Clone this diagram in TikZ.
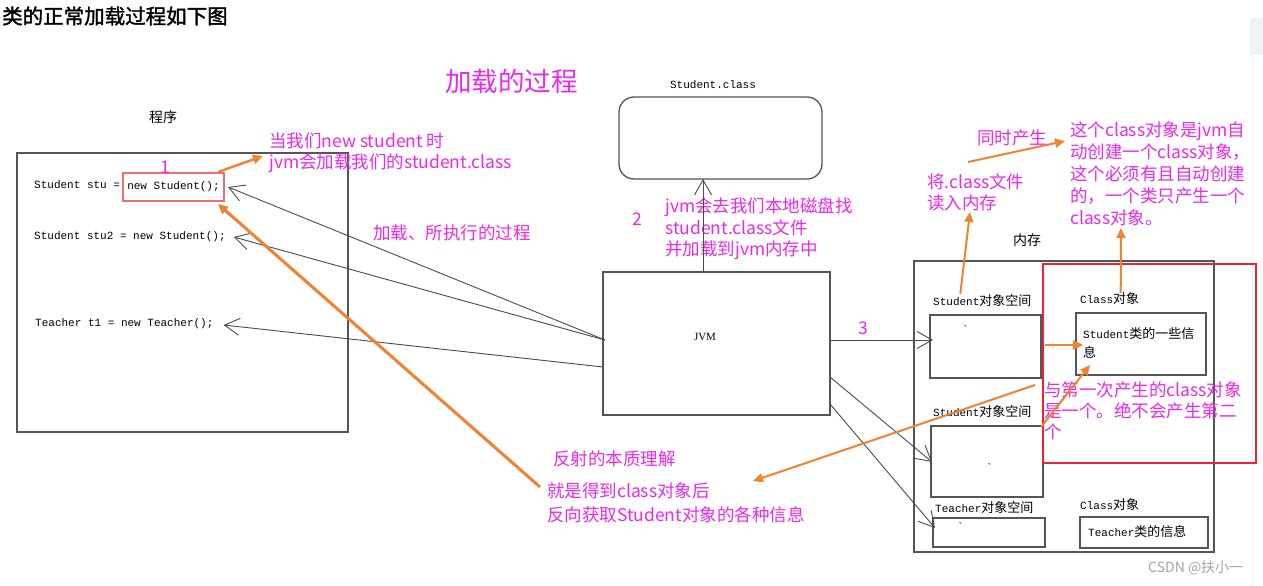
\documentclass[tikz,border=0pt]{standalone}
\usepackage{fontspec}
\setmainfont{Liberation Serif}
\newfontfamily\cjk{Noto Sans CJK SC}
\newfontfamily\cjkbold[FakeBold=1.6]{Noto Sans CJK SC}
\newfontfamily\code{Liberation Mono}
\usetikzlibrary{arrows.meta,calc}
\definecolor{mag}{RGB}{235,40,235}
\definecolor{org}{RGB}{240,130,50}
\definecolor{lgray}{RGB}{75,75,75}
\definecolor{bgray}{RGB}{85,85,85}
\definecolor{bred}{RGB}{236,35,50}
\definecolor{pinkred}{RGB}{236,110,115}
\definecolor{wmark}{RGB}{165,165,165}
\definecolor{edgec}{RGB}{238,243,248}
\newcommand\codefont{\code\fontsize{11}{13}\selectfont}
\newcommand\mix[2]{{\codefont #1}{\cjk\fontsize{13}{15}\selectfont #2}}
\begin{document}
\begin{tikzpicture}[x=1pt,y=-1pt,
  box/.style={draw=bgray, line width=1.3pt, inner sep=0pt, outer sep=0pt, anchor=north west},
  codetxt/.style={font=\codefont, inner sep=0pt, anchor=west},
  labtxt/.style={inner sep=0pt, anchor=west},
  mtext/.style={text=mag, font=\cjk\fontsize{17.5}{21.5}\selectfont, align=left, inner sep=0pt, anchor=base west},
  garrow/.style={draw=lgray, line width=0.9pt, -{Straight Barb[length=15pt,width=17pt,line width=0.9pt]}},
  oarrow/.style={draw=org, line width=2.4pt, -{Triangle[length=10pt,width=9pt]}}
]
\fill[white] (0,0) rectangle (1263,586);
\useasboundingbox (0,0) rectangle (1263,586);
\fill[edgec] (1250,18) rectangle (1263,55);
\draw[edgec, line width=1pt] (1252,55) -- (1252,586);

% titles
\node[anchor=west, inner sep=0pt, font=\cjkbold\fontsize{20.5}{24}\selectfont] (title) at (2,16) {类的正常加载过程如下图};
\node[anchor=west, inner sep=0pt, text=mag, font=\cjk\fontsize{26.5}{30}\selectfont] (heading) at (445,81) {加载的过程};

% program box
\node[font=\cjk\fontsize{14}{16}\selectfont, inner sep=0pt] (proglab) at (163,117) {程序};
\node[box, minimum width=331pt, minimum height=279pt] (prog) at (17,153) {};
\node[codetxt] (c1a) at (34,185) {Student stu =};
\node[draw=pinkred, line width=1.1pt, font=\codefont, inner sep=0pt, outer sep=0pt,
      minimum width=101pt, minimum height=28pt, anchor=north west] (new1) at (123,173) {new Student();};
\node[codetxt] (c2) at (34,237) {Student stu2 = new Student();};
\node[codetxt] (c3) at (35,324) {Teacher t1 = new Teacher();};

% Student.class
\node[font=\codefont, inner sep=0pt] (sclasslab) at (713,85) {Student.class};
\node[box, rounded corners=15pt, minimum width=203pt, minimum height=82pt] (sclass) at (619,97) {};

% JVM
\node[box, minimum width=227pt, minimum height=143pt] (jvm) at (603,272) {};
\node[font=\fontsize{11}{13}\selectfont, inner sep=0pt] (jvmlab) at (705,337) {JVM};

% memory
\node[font=\cjk\fontsize{14}{16}\selectfont, inner sep=0pt] (memlab) at (1027,240) {内存};
\node[box, line width=1.1pt, minimum width=300pt, minimum height=291pt] (mem) at (914,261) {};
\node[labtxt] (s1lab) at (933,301) {\mix{Student}{对象空间}};
\node[box, line width=1.1pt, minimum width=111pt, minimum height=63pt] (sbox1) at (930,315) {};
\node[labtxt, font=\codefont] (tick1) at (962,330) {\char"60};
\node[labtxt] (s2lab) at (933,412) {\mix{Student}{对象空间}};
\node[box, line width=1.1pt, minimum width=112pt, minimum height=71pt] (sbox2) at (931,426) {};
\node[labtxt, font=\codefont] (tick2) at (986,468) {\char"60};
\node[labtxt] (tlab) at (935,508) {\mix{Teacher}{对象空间}};
\node[box, line width=1.1pt, minimum width=112pt, minimum height=29pt] (tbox) at (933,518) {};
\node[labtxt, font=\codefont] (tick3) at (957,527) {\char"60};

\node[labtxt] (c1lab) at (1080,299) {\mix{Class}{对象}};
\node[box, line width=1.1pt, minimum width=130pt, minimum height=62pt] (cbox1) at (1076,313) {};
\node[labtxt, align=left, anchor=north west] (cinfo1) at (1083,327) {\mix{Student}{类的一些信}\\[6pt]{\cjk\fontsize{13}{15}\selectfont 息}};
\node[labtxt] (c2lab) at (1080,505) {\mix{Class}{对象}};
\node[box, line width=1.1pt, minimum width=128pt, minimum height=31pt] (cbox2) at (1080,517) {};
\node[labtxt] (cinfo2) at (1088,532) {\mix{Teacher}{类的信息}};

\node[draw=bred, line width=2.6pt, inner sep=0pt, outer sep=0pt, minimum width=213pt, minimum height=199pt, anchor=north west] (redbox) at (1043,264) {};

% magenta texts (multi-line nodes: base = baseline of last line)
\node[mtext, anchor=center] (n1) at (165,167) {1};
\node[mtext, anchor=center] (n2) at (637,219) {2};
\node[mtext, anchor=center] (n3) at (863,328) {3};
\node[mtext, font=\cjk\fontsize{17.5}{21}\selectfont] (t1) at (269,168.6) {当我们new student 时\\jvm会加载我们的student.class};
\node[mtext] (t2) at (373,239.6) {加载、所执行的过程};
\node[mtext] (t3) at (665,255.6) {jvm会去我们本地磁盘找\\student.class文件\\并加载到jvm内存中};
\node[mtext, font=\cjk\fontsize{17.5}{21}\selectfont] (t4) at (927,209.6) {将.class文件\\读入内存};
\node[mtext] (t5) at (977,144.6) {同时产生};
\node[mtext, font=\cjk\fontsize{17.5}{22}\selectfont] (t6) at (1070,224.6) {这个class对象是jvm自\\动创建一个class对象，\\这个必须有且自动创建\\的，一个类只产生一个\\class对象。};
\node[mtext, font=\cjk\fontsize{17.5}{21}\selectfont] (t7) at (1044,438.6) {与第一次产生的class对象\\是一个。绝不会产生第二\\个};
\node[mtext] (t8) at (553,465.6) {反射的本质理解};
\node[mtext, font=\cjk\fontsize{17.5}{24}\selectfont] (t9) at (547,521.6) {就是得到class对象后\\反向获取Student对象的各种信息};

\node[anchor=west, inner sep=0pt, text=wmark, font=\cjk\fontsize{14}{16}\selectfont] (wm) at (1148,568) {CSDN @扶小一};

% free ends
\coordinate (o1end) at (263,156);
\coordinate (o2start) at (540,487);
\coordinate (o3end) at (970,212);
\coordinate (o4start) at (968,162);
\coordinate (o4end) at (1065,141);
\coordinate (o5end) at (1121,228);
\coordinate (o7start) at (1041,427);
\coordinate (o8end) at (753,481);

% gray connectors
\draw[garrow] ($(jvm.west)+(2,-3.5)$) -- ($(new1.east)+(4,0)$);
\draw[garrow] ($(jvm.west)+(2,-3.5)$) -- ($(c2.east)+(8,0)$);
\draw[garrow] ($(jvm.west)+(0,23.5)$) -- ($(c3.east)+(10,1)$);
\draw[garrow] ($(jvm.north)+(-13.5,0)$) -- ($(sclass.south)+(-17.5,0)$);
\draw[garrow] ($(jvm.east)+(0,-3.5)$) -- ($(sbox1.west)+(3,-6.5)$);
\draw[garrow] ($(jvm.east)+(0,33.5)$) -- ($(sbox2.west)+(1,0.5)$);
\draw[garrow] ($(jvm.east)+(0,60.5)$) -- ($(tbox.west)+(2,-4.5)$);

% orange connectors
\draw[oarrow] ($(new1.north east)+(-6,-1)$) -- (o1end);
\draw[oarrow, line width=3pt] (o2start) -- ($(new1.south east)+(-6,3)$);
\draw[oarrow, line width=2pt] ($(s1lab.north)+(-22,-1)$) -- (o3end);
\draw[oarrow, line width=2pt] (o4start) -- (o4end);
\draw[oarrow, line width=2pt] ($(c1lab.north)+(11,0)$) -- (o5end);
\draw[oarrow] ($(sbox1.east)+(4,-1.5)$) -- ($(cbox1.west)+(7,1)$);
\draw[oarrow, line width=2pt] (o7start) -- ($(cbox1.south west)+(14,-10)$);
\draw[oarrow, line width=2pt] ($(sbox1.south east)+(-6,7)$) -- (o8end);
\end{tikzpicture}
\end{document}
